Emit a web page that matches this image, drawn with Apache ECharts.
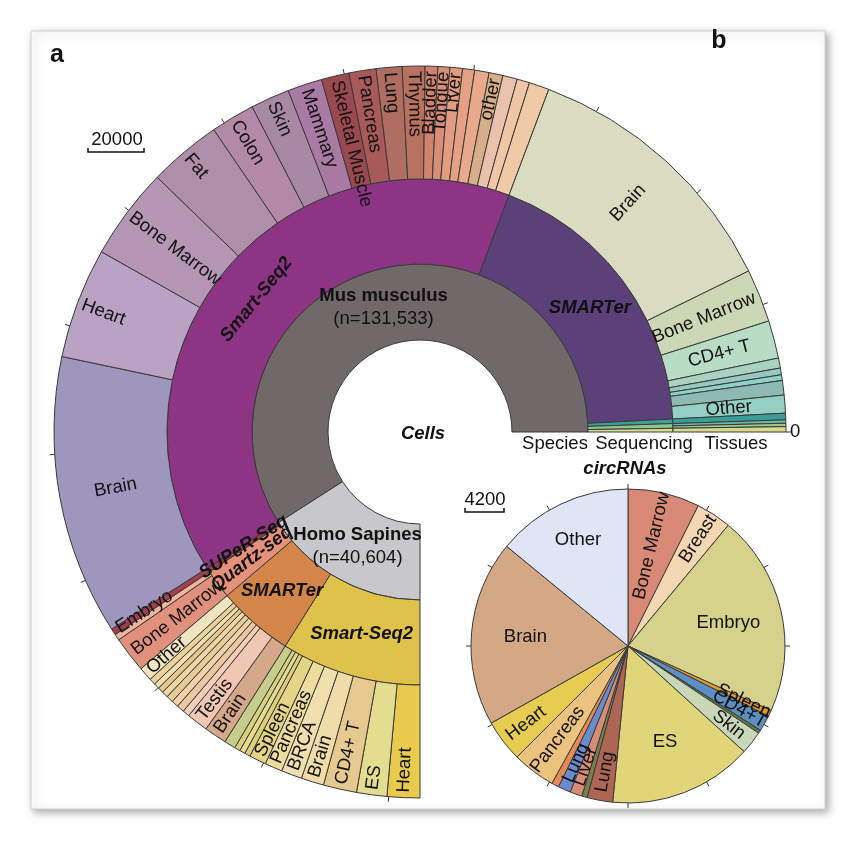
<!DOCTYPE html>
<html><head><meta charset="utf-8">
<script src="https://cdn.jsdelivr.net/npm/echarts@6/dist/echarts.min.js"></script>
<style>html,body{margin:0;padding:0;background:#fff}#c{width:856px;height:843px}</style>
</head><body><div id="c"></div>
<script>
// ================= DATA (counter-clockwise from 3 o'clock) =================
const speciesNames = ['Mus musculus', 'Homo Sapines'];
const speciesCounts = ['131,533', '40,604'];

// ---- Mus musculus: sequencing methods and their tissues (cells) ----
const musSeqNames = ['', '', '', 'SMARTer', 'Smart-Seq2'];
const musA_tissues = [''];
const musA_cells = [536];
const musB_tissues = ['', ''];
const musB_cells = [338, 338];
const musC_tissues = [''];
const musC_cells = [669];
const musSmarter_tissues = ['Other', '', '', '', '', 'CD4+ T', 'Bone Marrow', 'Brain'];
const musSmarter_cells = [1817, 1466, 574, 682, 1014, 3819, 5387, 27604];
const musSS2_tissues = ['', '', '', 'other', '', '', 'Liver', 'Tongue', 'Bladder', 'Thymus', 'Lung',
  'Pancreas', 'Skeletal Muscle', 'Mammary', 'Skin', 'Colon', 'Fat', 'Bone Marrow', 'Heart', 'Brain'];
const musSS2_cells = [2040, 1275, 1466, 1403, 1466, 1211, 1275, 1211, 1275, 2295, 2614,
  2741, 2805, 3506, 3953, 4463, 7395, 9308, 11221, 28370];

// ---- Homo sapiens ----
const humSeqNames = ['SUPeR-Seq', 'Quartz-seq', 'SMARTer', 'Smart-Seq2'];
const humSuper_tissues = ['Embryo'];
const humSuper_cells = [638];
const humQuartz_tissues = ['', 'Bone Marrow'];
const humQuartz_cells = [638, 3634];
const humSmarter_tissues = ['Other', '', '', '', '', '', '', '', '', 'Testis', 'Brain'];
const humSmarter_cells = [1403, 638, 574, 574, 638, 701, 701, 765, 701, 2168, 2295];
const humSS2_tissues = ['', '', '', '', 'Spleen', 'Pancreas', 'BRCA', 'Brain', 'CD4+ T', 'ES', 'Heart'];
const humSS2_cells = [1148, 574, 574, 574, 1721, 1785, 2104, 2295, 3379, 3060, 3315];

// angle-axis tick values (cells)
const cellTicks = [0, 13000, 26000, 39000, 52000, 65000, 78000, 91000, 104000, 117000, 130000, 143000, 156000, 169000];

// ---- circRNAs pie (clockwise from 12 o'clock) ----
const circNames = ['Bone Marrow', 'Breast', 'Embryo', 'Spleen', 'CD4+T', '', 'Skin', 'ES', 'Lung', '',
  'Liver', 'Lung', '', 'Pancreas', 'Heart', 'Brain', 'Other'];
const circCounts = [3724, 1834, 10444, 308, 840, 168, 1204, 7462, 1330, 280, 630, 658, 378, 2240, 2184, 9632, 7084];

// ================= STYLES =================
const FONT = "'Liberation Sans', Arial, Helvetica, sans-serif";
const FS = 18.5;
const speciesColors = ['#71686a', '#c8c7c9'];
const musSeqColors = ['#d6db92', '#8cc690', '#3f9e98', '#5b4079', '#8e3485'];
const humSeqColors = ['#a03c4e', '#e6917b', '#d3854a', '#dfc24a'];
const musA_colors = ['#d8d98c'];
const musB_colors = ['#9acb8c', '#6bb8a8'];
const musC_colors = ['#3a9e98'];
const musSmarter_colors = ['#95cfc3', '#8dbab3', '#8ed3c9', '#96c9bf', '#a9d2c0', '#b9dcc5', '#ccd8b5', '#dadcc1'];
const musSS2_colors = ['#f0c9a6', '#f0c6a4', '#e9c2ae', '#d8ae89', '#eaa98a', '#e6a083', '#e39c80', '#d68e78',
  '#d0826e', '#b8725f', '#b06e62', '#a85a5b', '#9b4951', '#a97ba4', '#a889a5', '#b489a8', '#af8ea9',
  '#b696b5', '#b9a2c3', '#9f96bd'];
const humSuper_colors = ['#a53f4f'];
const humQuartz_colors = ['#efb59d', '#e0907b'];
const humSmarter_colors = ['#f1e4c0', '#e9d39b', '#f0deb0', '#e6c88e', '#efd6a4', '#e8cc98', '#f1d2aa',
  '#ecc7a0', '#f2cfb6', '#f0c7b2', '#d4a889'];
const humSS2_colors = ['#c7cd8a', '#d9d27c', '#e5da8f', '#dcd07a', '#e3d585', '#ecdc9e', '#efdfae',
  '#efdca8', '#e5c98f', '#e4dc8e', '#e8ca4c'];
const circColors = ['#d98a76', '#f3d6b2', '#d6d18b', '#e59a2e', '#5d8fc2', '#5b7a3c', '#c9d7b9', '#e1d57a',
  '#ad6656', '#77804a', '#d98c74', '#6b8ccc', '#e58a55', '#ebc37e', '#e6cd52', '#d4a785', '#dfe5f4'];
const circRotate = ['radial', 'radial', 0, 'radial', 'radial', 'radial', 'radial', 0, 'radial', 'radial',
  'radial', 'radial', 'radial', 'radial', 'radial', 0, 0];
// inner radius of the (invisible) ring that places each pie label
const circLabelR0 = [43, 93, 43, 93, 93, 93, 93, 43, 93, 93, 93, 93, 93, 71, 93, 43, 71];
const seqLabelRotate = {
  'Mus musculus|SMARTer': 0, 'Mus musculus|Smart-Seq2': 'tangential',
  'Homo Sapines|SUPeR-Seq': 'radial', 'Homo Sapines|Quartz-seq': 'radial',
  'Homo Sapines|SMARTer': 0, 'Homo Sapines|Smart-Seq2': 0
};
const centeredTissueLabels = new Set(['Mus musculus|SMARTer|Brain', 'Mus musculus|SMARTer|CD4+ T',
  'Mus musculus|SMARTer|Other', 'Mus musculus|Smart-Seq2|Brain']);

// ================= BUILD TREE (drawn clockwise from 6 o'clock => reversed) =================
function seqNode(sp, name, tissues, cells, seqColor, tColors) {
  const kids = tissues.map((t, i) => {
    const n = { name: t, value: cells[i], itemStyle: { color: tColors[i] } };
    if (centeredTissueLabels.has(sp + '|' + name + '|' + t)) n.label = { align: 'center' };
    return n;
  }).reverse();
  const node = { name: name, itemStyle: { color: seqColor }, children: kids };
  const rot = seqLabelRotate[sp + '|' + name];
  if (rot !== undefined) node.label = { rotate: rot };
  return node;
}
const musChildren = [
  seqNode('Mus musculus', musSeqNames[0], musA_tissues, musA_cells, musSeqColors[0], musA_colors),
  seqNode('Mus musculus', musSeqNames[1], musB_tissues, musB_cells, musSeqColors[1], musB_colors),
  seqNode('Mus musculus', musSeqNames[2], musC_tissues, musC_cells, musSeqColors[2], musC_colors),
  seqNode('Mus musculus', musSeqNames[3], musSmarter_tissues, musSmarter_cells, musSeqColors[3], musSmarter_colors),
  seqNode('Mus musculus', musSeqNames[4], musSS2_tissues, musSS2_cells, musSeqColors[4], musSS2_colors)
].reverse();
const humChildren = [
  seqNode('Homo Sapines', humSeqNames[0], humSuper_tissues, humSuper_cells, humSeqColors[0], humSuper_colors),
  seqNode('Homo Sapines', humSeqNames[1], humQuartz_tissues, humQuartz_cells, humSeqColors[1], humQuartz_colors),
  seqNode('Homo Sapines', humSeqNames[2], humSmarter_tissues, humSmarter_cells, humSeqColors[2], humSmarter_colors),
  seqNode('Homo Sapines', humSeqNames[3], humSS2_tissues, humSS2_cells, humSeqColors[3], humSS2_colors)
].reverse();
const sumArr = a => a.reduce((s, v) => s + v, 0);
const totalCells = [musA_cells, musB_cells, musC_cells, musSmarter_cells, musSS2_cells,
  humSuper_cells, humQuartz_cells, humSmarter_cells, humSS2_cells].map(sumArr).reduce((s, v) => s + v, 0);

const speciesLabel = (i) => ({
  rotate: 0,
  formatter: '{b|' + speciesNames[i] + '}\n{n|(n=' + speciesCounts[i] + ')}',
  rich: {
    b: { fontSize: FS, fontWeight: 'bold', fontFamily: FONT, color: '#111', lineHeight: 23 },
    n: { fontSize: FS, fontFamily: FONT, color: '#111', lineHeight: 23 }
  }
});
const treeData = [
  { name: speciesNames[1], itemStyle: { color: speciesColors[1] }, label: speciesLabel(1), children: humChildren },
  { name: speciesNames[0], itemStyle: { color: speciesColors[0] }, label: speciesLabel(0), children: musChildren },
  { name: '', value: totalCells / 3, itemStyle: { color: 'rgba(0,0,0,0)', borderWidth: 0 }, label: { show: false } }
];

const circData = circNames.map((n, i) => ({ name: n, value: circCounts[i], itemStyle: { color: circColors[i] } }));
const labelRings = Array.from(new Set(circLabelR0));
const circLabelSeries = labelRings.map(r0 => ({
  type: 'pie', center: [628, 646], radius: [r0, 157], startAngle: 90, silent: true, z: 5,
  avoidLabelOverlap: false,
  labelLayout: { hideOverlap: false },
  itemStyle: { color: 'rgba(0,0,0,0)', borderWidth: 0 },
  labelLine: { show: false },
  label: { show: true, position: 'inside', color: '#111', fontSize: FS, fontFamily: FONT, formatter: '{b}' },
  data: circNames.map((n, i) => ({ name: n, value: circCounts[i],
    label: { show: circLabelR0[i] === r0 && n !== '', rotate: circRotate[i] } }))
}));

// ================= CHART =================
const chart = echarts.init(document.getElementById('c'), null, { renderer: 'canvas' });
const textStyle = (t, x, y, extra) => ({
  type: 'text', z: 100, silent: true, x: x, y: y,
  style: Object.assign({ text: t, fontFamily: FONT, fontSize: FS, fill: '#111', align: 'center', verticalAlign: 'middle' }, extra || {})
});
chart.setOption({
  animation: false,
  backgroundColor: '#fff',
  textStyle: { fontFamily: FONT },
  polar: [
    { center: [420, 432], radius: 366 },
    { center: [628, 646], radius: 157 }
  ],
  angleAxis: [
    { polarIndex: 0, type: 'value', min: 0, max: totalCells * 4 / 3, interval: 13000, startAngle: 0, clockwise: false,
      axisLine: { show: false }, splitLine: { show: false },
      axisTick: { show: true, customValues: cellTicks, length: 5, lineStyle: { color: '#333', width: 1 } },
      axisLabel: { show: true, customValues: [0], formatter: v => (v === 0 ? '0' : ''), margin: 4,
        fontSize: FS, color: '#111', fontFamily: FONT } },
    { polarIndex: 1, type: 'value', min: 0, max: 360, interval: 30, startAngle: 90,
      axisLine: { show: false }, splitLine: { show: false },
      axisTick: { show: true, length: 5, lineStyle: { color: '#333', width: 1 } },
      axisLabel: { show: false } }
  ],
  radiusAxis: [
    { polarIndex: 0, show: false, min: 0, max: 1 },
    { polarIndex: 1, show: false, min: 0, max: 1 }
  ],
  series: [
    {
      type: 'sunburst', center: [420, 432], radius: [0, 366], startAngle: 270,
      sort: function () { return 0; }, nodeClick: false,
      emphasis: { focus: 'none' },
      labelLayout: { hideOverlap: false },
      itemStyle: { borderColor: '#3a3a3a', borderWidth: 1 },
      label: { color: '#111', fontFamily: FONT, fontSize: FS },
      levels: [
        {},
        { r0: 92, r: 168, label: { rotate: 0 } },
        { r0: 168, r: 253, label: { fontWeight: 'bold', fontStyle: 'italic', fontSize: FS } },
        { r0: 253, r: 366, label: { rotate: 'radial', align: 'right', distance: 5, fontSize: FS } }
      ],
      data: treeData
    },
    {
      type: 'pie', center: [628, 646], radius: [0, 157], startAngle: 90, silent: true,
      label: { show: false }, labelLine: { show: false },
      itemStyle: { borderColor: '#3a3a3a', borderWidth: 1 },
      data: circData
    }
  ].concat(circLabelSeries),
  graphic: [
    { type: 'rect', z: -10, silent: true, shape: { x: 31, y: 31, width: 794, height: 778 },
      style: { fill: '#fff', stroke: '#d0d0d0', lineWidth: 1, shadowBlur: 8, shadowColor: 'rgba(0,0,0,0.35)', shadowOffsetX: 3, shadowOffsetY: 3 } },
    textStyle('a', 57, 55, { fontSize: 25, fontWeight: 'bold' }),
    textStyle('b', 719, 41, { fontSize: 25, fontWeight: 'bold' }),
    textStyle('Cells', 423, 434, { fontWeight: 'bold', fontStyle: 'italic' }),
    textStyle('circRNAs', 625, 469, { fontWeight: 'bold', fontStyle: 'italic' }),
    textStyle('Species', 555, 444),
    textStyle('Sequencing', 644, 444),
    textStyle('Tissues', 736, 444),
    textStyle('20000', 117, 140),
    { type: 'polyline', z: 100, silent: true, shape: { points: [[88, 148], [88, 152], [144, 152], [144, 148]] },
      style: { stroke: '#111', lineWidth: 1.5, fill: null } },
    textStyle('4200', 485, 500),
    { type: 'polyline', z: 100, silent: true, shape: { points: [[465, 508], [465, 512], [504, 512], [504, 508]] },
      style: { stroke: '#111', lineWidth: 1.5, fill: null } }
  ]
});
</script></body></html>
